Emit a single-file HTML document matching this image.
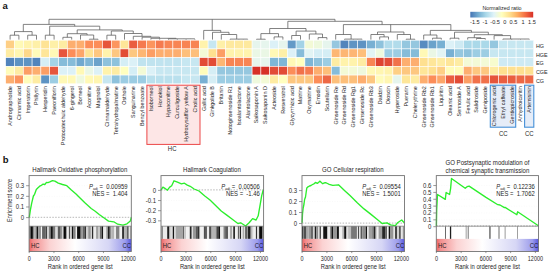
<!DOCTYPE html>
<html><head><meta charset="utf-8"><style>
html,body{margin:0;padding:0;background:#fff;width:550px;height:272px;overflow:hidden}
svg{display:block}
text{stroke:none}
</style></head><body>
<svg width="550" height="272" viewBox="0 0 550 272" font-family="'Liberation Sans', sans-serif">
<rect width="550" height="272" fill="#ffffff"/>
<g stroke="#ffffff" stroke-width="0.55">
<rect x="5.70" y="40.20" width="8.80" height="8.72" fill="#fecf85"/>
<rect x="14.50" y="40.20" width="8.80" height="8.72" fill="#fff9b6"/>
<rect x="23.30" y="40.20" width="8.80" height="8.72" fill="#fff3ac"/>
<rect x="32.10" y="40.20" width="8.80" height="8.72" fill="#fef0a8"/>
<rect x="40.90" y="40.20" width="8.80" height="8.72" fill="#fee395"/>
<rect x="49.70" y="40.20" width="8.80" height="8.72" fill="#fef0a8"/>
<rect x="58.50" y="40.20" width="8.80" height="8.72" fill="#feeca3"/>
<rect x="67.30" y="40.20" width="8.80" height="8.72" fill="#fdae6f"/>
<rect x="76.10" y="40.20" width="8.80" height="8.72" fill="#fdae6f"/>
<rect x="84.90" y="40.20" width="8.80" height="8.72" fill="#fc8d59"/>
<rect x="93.70" y="40.20" width="8.80" height="8.72" fill="#fc8d59"/>
<rect x="102.50" y="40.20" width="8.80" height="8.72" fill="#e6553b"/>
<rect x="111.30" y="40.20" width="8.80" height="8.72" fill="#fc955e"/>
<rect x="120.10" y="40.20" width="8.80" height="8.72" fill="#fee699"/>
<rect x="128.90" y="40.20" width="8.80" height="8.72" fill="#ea5e40"/>
<rect x="137.70" y="40.20" width="8.80" height="8.72" fill="#f57a4f"/>
<rect x="146.50" y="40.20" width="8.80" height="8.72" fill="#fc955e"/>
<rect x="155.30" y="40.20" width="8.80" height="8.72" fill="#f57a4f"/>
<rect x="164.10" y="40.20" width="8.80" height="8.72" fill="#f88454"/>
<rect x="172.90" y="40.20" width="8.80" height="8.72" fill="#f88454"/>
<rect x="181.70" y="40.20" width="8.80" height="8.72" fill="#f88454"/>
<rect x="190.50" y="40.20" width="8.80" height="8.72" fill="#f88454"/>
<rect x="199.30" y="40.20" width="8.80" height="8.72" fill="#fff3ac"/>
<rect x="208.10" y="40.20" width="8.80" height="8.72" fill="#c7e7f1"/>
<rect x="216.90" y="40.20" width="8.80" height="8.72" fill="#fef0a8"/>
<rect x="225.70" y="40.20" width="8.80" height="8.72" fill="#fee99e"/>
<rect x="234.50" y="40.20" width="8.80" height="8.72" fill="#fee99e"/>
<rect x="243.30" y="40.20" width="8.80" height="8.72" fill="#fee99e"/>
<rect x="252.10" y="40.20" width="8.80" height="8.72" fill="#e6f5ed"/>
<rect x="260.90" y="40.20" width="8.80" height="8.72" fill="#e6f5ed"/>
<rect x="269.70" y="40.20" width="8.80" height="8.72" fill="#dcf1f7"/>
<rect x="278.50" y="40.20" width="8.80" height="8.72" fill="#e6f5ed"/>
<rect x="287.30" y="40.20" width="8.80" height="8.72" fill="#649ac7"/>
<rect x="296.10" y="40.20" width="8.80" height="8.72" fill="#a4d3e6"/>
<rect x="304.90" y="40.20" width="8.80" height="8.72" fill="#f3fad6"/>
<rect x="313.70" y="40.20" width="8.80" height="8.72" fill="#eef9dd"/>
<rect x="322.50" y="40.20" width="8.80" height="8.72" fill="#e6f5ed"/>
<rect x="331.30" y="40.20" width="8.80" height="8.72" fill="#95c7df"/>
<rect x="340.10" y="40.20" width="8.80" height="8.72" fill="#5284bc"/>
<rect x="348.90" y="40.20" width="8.80" height="8.72" fill="#5e93c3"/>
<rect x="357.70" y="40.20" width="8.80" height="8.72" fill="#5e93c3"/>
<rect x="366.50" y="40.20" width="8.80" height="8.72" fill="#78b0d3"/>
<rect x="375.30" y="40.20" width="8.80" height="8.72" fill="#8ec2dc"/>
<rect x="384.10" y="40.20" width="8.80" height="8.72" fill="#b2dceb"/>
<rect x="392.90" y="40.20" width="8.80" height="8.72" fill="#b2dceb"/>
<rect x="401.70" y="40.20" width="8.80" height="8.72" fill="#95c7df"/>
<rect x="410.50" y="40.20" width="8.80" height="8.72" fill="#95c7df"/>
<rect x="419.30" y="40.20" width="8.80" height="8.72" fill="#588bc0"/>
<rect x="428.10" y="40.20" width="8.80" height="8.72" fill="#6ba2cb"/>
<rect x="436.90" y="40.20" width="8.80" height="8.72" fill="#78b0d3"/>
<rect x="445.70" y="40.20" width="8.80" height="8.72" fill="#dcf1f7"/>
<rect x="454.50" y="40.20" width="8.80" height="8.72" fill="#ceeaf3"/>
<rect x="463.30" y="40.20" width="8.80" height="8.72" fill="#abd9e9"/>
<rect x="472.10" y="40.20" width="8.80" height="8.72" fill="#abd9e9"/>
<rect x="480.90" y="40.20" width="8.80" height="8.72" fill="#abd9e9"/>
<rect x="489.70" y="40.20" width="8.80" height="8.72" fill="#95c7df"/>
<rect x="498.50" y="40.20" width="8.80" height="8.72" fill="#c7e7f1"/>
<rect x="507.30" y="40.20" width="8.80" height="8.72" fill="#c7e7f1"/>
<rect x="516.10" y="40.20" width="8.80" height="8.72" fill="#c7e7f1"/>
<rect x="524.90" y="40.20" width="8.80" height="8.72" fill="#c7e7f1"/>
<rect x="5.70" y="48.92" width="8.80" height="8.72" fill="#feeca3"/>
<rect x="14.50" y="48.92" width="8.80" height="8.72" fill="#fff6b1"/>
<rect x="23.30" y="48.92" width="8.80" height="8.72" fill="#fed88a"/>
<rect x="32.10" y="48.92" width="8.80" height="8.72" fill="#fffcba"/>
<rect x="40.90" y="48.92" width="8.80" height="8.72" fill="#fee699"/>
<rect x="49.70" y="48.92" width="8.80" height="8.72" fill="#fff9b6"/>
<rect x="58.50" y="48.92" width="8.80" height="8.72" fill="#e6553b"/>
<rect x="67.30" y="48.92" width="8.80" height="8.72" fill="#fc8d59"/>
<rect x="76.10" y="48.92" width="8.80" height="8.72" fill="#fda66a"/>
<rect x="84.90" y="48.92" width="8.80" height="8.72" fill="#fee395"/>
<rect x="93.70" y="48.92" width="8.80" height="8.72" fill="#fdc780"/>
<rect x="102.50" y="48.92" width="8.80" height="8.72" fill="#fff3ac"/>
<rect x="111.30" y="48.92" width="8.80" height="8.72" fill="#fdc780"/>
<rect x="120.10" y="48.92" width="8.80" height="8.72" fill="#e24c36"/>
<rect x="128.90" y="48.92" width="8.80" height="8.72" fill="#fdc780"/>
<rect x="137.70" y="48.92" width="8.80" height="8.72" fill="#fdb674"/>
<rect x="146.50" y="48.92" width="8.80" height="8.72" fill="#fc9e64"/>
<rect x="155.30" y="48.92" width="8.80" height="8.72" fill="#fdae6f"/>
<rect x="164.10" y="48.92" width="8.80" height="8.72" fill="#fdae6f"/>
<rect x="172.90" y="48.92" width="8.80" height="8.72" fill="#fdae6f"/>
<rect x="181.70" y="48.92" width="8.80" height="8.72" fill="#fdbf7a"/>
<rect x="190.50" y="48.92" width="8.80" height="8.72" fill="#fdbf7a"/>
<rect x="199.30" y="48.92" width="8.80" height="8.72" fill="#f3fad6"/>
<rect x="208.10" y="48.92" width="8.80" height="8.72" fill="#fee090"/>
<rect x="216.90" y="48.92" width="8.80" height="8.72" fill="#fc9e64"/>
<rect x="225.70" y="48.92" width="8.80" height="8.72" fill="#fff3ac"/>
<rect x="234.50" y="48.92" width="8.80" height="8.72" fill="#fff3ac"/>
<rect x="243.30" y="48.92" width="8.80" height="8.72" fill="#fff3ac"/>
<rect x="252.10" y="48.92" width="8.80" height="8.72" fill="#eaf7e5"/>
<rect x="260.90" y="48.92" width="8.80" height="8.72" fill="#eaf7e5"/>
<rect x="269.70" y="48.92" width="8.80" height="8.72" fill="#fff9b6"/>
<rect x="278.50" y="48.92" width="8.80" height="8.72" fill="#fef0a8"/>
<rect x="287.30" y="48.92" width="8.80" height="8.72" fill="#dcf1f7"/>
<rect x="296.10" y="48.92" width="8.80" height="8.72" fill="#86bcd9"/>
<rect x="304.90" y="48.92" width="8.80" height="8.72" fill="#e2f4f4"/>
<rect x="313.70" y="48.92" width="8.80" height="8.72" fill="#d5eef5"/>
<rect x="322.50" y="48.92" width="8.80" height="8.72" fill="#d5eef5"/>
<rect x="331.30" y="48.92" width="8.80" height="8.72" fill="#fdb674"/>
<rect x="340.10" y="48.92" width="8.80" height="8.72" fill="#fdb674"/>
<rect x="348.90" y="48.92" width="8.80" height="8.72" fill="#fdb674"/>
<rect x="357.70" y="48.92" width="8.80" height="8.72" fill="#fdbf7a"/>
<rect x="366.50" y="48.92" width="8.80" height="8.72" fill="#e2f4f4"/>
<rect x="375.30" y="48.92" width="8.80" height="8.72" fill="#eef9dd"/>
<rect x="384.10" y="48.92" width="8.80" height="8.72" fill="#9ccde3"/>
<rect x="392.90" y="48.92" width="8.80" height="8.72" fill="#9ccde3"/>
<rect x="401.70" y="48.92" width="8.80" height="8.72" fill="#86bcd9"/>
<rect x="410.50" y="48.92" width="8.80" height="8.72" fill="#86bcd9"/>
<rect x="419.30" y="48.92" width="8.80" height="8.72" fill="#fff9b6"/>
<rect x="428.10" y="48.92" width="8.80" height="8.72" fill="#eaf7e5"/>
<rect x="436.90" y="48.92" width="8.80" height="8.72" fill="#e2f4f4"/>
<rect x="445.70" y="48.92" width="8.80" height="8.72" fill="#78b0d3"/>
<rect x="454.50" y="48.92" width="8.80" height="8.72" fill="#95c7df"/>
<rect x="463.30" y="48.92" width="8.80" height="8.72" fill="#8ec2dc"/>
<rect x="472.10" y="48.92" width="8.80" height="8.72" fill="#9ccde3"/>
<rect x="480.90" y="48.92" width="8.80" height="8.72" fill="#9ccde3"/>
<rect x="489.70" y="48.92" width="8.80" height="8.72" fill="#c7e7f1"/>
<rect x="498.50" y="48.92" width="8.80" height="8.72" fill="#c7e7f1"/>
<rect x="507.30" y="48.92" width="8.80" height="8.72" fill="#c7e7f1"/>
<rect x="516.10" y="48.92" width="8.80" height="8.72" fill="#c7e7f1"/>
<rect x="524.90" y="48.92" width="8.80" height="8.72" fill="#c7e7f1"/>
<rect x="5.70" y="57.64" width="8.80" height="8.72" fill="#5284bc"/>
<rect x="14.50" y="57.64" width="8.80" height="8.72" fill="#5e93c3"/>
<rect x="23.30" y="57.64" width="8.80" height="8.72" fill="#5e93c3"/>
<rect x="32.10" y="57.64" width="8.80" height="8.72" fill="#5284bc"/>
<rect x="40.90" y="57.64" width="8.80" height="8.72" fill="#d5eef5"/>
<rect x="49.70" y="57.64" width="8.80" height="8.72" fill="#a4d3e6"/>
<rect x="58.50" y="57.64" width="8.80" height="8.72" fill="#86bcd9"/>
<rect x="67.30" y="57.64" width="8.80" height="8.72" fill="#86bcd9"/>
<rect x="76.10" y="57.64" width="8.80" height="8.72" fill="#71a9cf"/>
<rect x="84.90" y="57.64" width="8.80" height="8.72" fill="#7fb6d6"/>
<rect x="93.70" y="57.64" width="8.80" height="8.72" fill="#6ba2cb"/>
<rect x="102.50" y="57.64" width="8.80" height="8.72" fill="#8ec2dc"/>
<rect x="111.30" y="57.64" width="8.80" height="8.72" fill="#8ec2dc"/>
<rect x="120.10" y="57.64" width="8.80" height="8.72" fill="#d5eef5"/>
<rect x="128.90" y="57.64" width="8.80" height="8.72" fill="#dcf1f7"/>
<rect x="137.70" y="57.64" width="8.80" height="8.72" fill="#c0e3ef"/>
<rect x="146.50" y="57.64" width="8.80" height="8.72" fill="#c0e3ef"/>
<rect x="155.30" y="57.64" width="8.80" height="8.72" fill="#c0e3ef"/>
<rect x="164.10" y="57.64" width="8.80" height="8.72" fill="#c0e3ef"/>
<rect x="172.90" y="57.64" width="8.80" height="8.72" fill="#c0e3ef"/>
<rect x="181.70" y="57.64" width="8.80" height="8.72" fill="#c7e7f1"/>
<rect x="190.50" y="57.64" width="8.80" height="8.72" fill="#c7e7f1"/>
<rect x="199.30" y="57.64" width="8.80" height="8.72" fill="#e24c36"/>
<rect x="208.10" y="57.64" width="8.80" height="8.72" fill="#e24c36"/>
<rect x="216.90" y="57.64" width="8.80" height="8.72" fill="#fdb674"/>
<rect x="225.70" y="57.64" width="8.80" height="8.72" fill="#f88454"/>
<rect x="234.50" y="57.64" width="8.80" height="8.72" fill="#f88454"/>
<rect x="243.30" y="57.64" width="8.80" height="8.72" fill="#f88454"/>
<rect x="252.10" y="57.64" width="8.80" height="8.72" fill="#e6f5ed"/>
<rect x="260.90" y="57.64" width="8.80" height="8.72" fill="#e6f5ed"/>
<rect x="269.70" y="57.64" width="8.80" height="8.72" fill="#7fb6d6"/>
<rect x="278.50" y="57.64" width="8.80" height="8.72" fill="#7fb6d6"/>
<rect x="287.30" y="57.64" width="8.80" height="8.72" fill="#fff9b6"/>
<rect x="296.10" y="57.64" width="8.80" height="8.72" fill="#ffffbf"/>
<rect x="304.90" y="57.64" width="8.80" height="8.72" fill="#7fb6d6"/>
<rect x="313.70" y="57.64" width="8.80" height="8.72" fill="#8ec2dc"/>
<rect x="322.50" y="57.64" width="8.80" height="8.72" fill="#9ccde3"/>
<rect x="331.30" y="57.64" width="8.80" height="8.72" fill="#feeca3"/>
<rect x="340.10" y="57.64" width="8.80" height="8.72" fill="#fff3ac"/>
<rect x="348.90" y="57.64" width="8.80" height="8.72" fill="#fff3ac"/>
<rect x="357.70" y="57.64" width="8.80" height="8.72" fill="#feeca3"/>
<rect x="366.50" y="57.64" width="8.80" height="8.72" fill="#f88454"/>
<rect x="375.30" y="57.64" width="8.80" height="8.72" fill="#de4331"/>
<rect x="384.10" y="57.64" width="8.80" height="8.72" fill="#e24c36"/>
<rect x="392.90" y="57.64" width="8.80" height="8.72" fill="#f1714a"/>
<rect x="401.70" y="57.64" width="8.80" height="8.72" fill="#fdae6f"/>
<rect x="410.50" y="57.64" width="8.80" height="8.72" fill="#fdae6f"/>
<rect x="419.30" y="57.64" width="8.80" height="8.72" fill="#fee090"/>
<rect x="428.10" y="57.64" width="8.80" height="8.72" fill="#fee699"/>
<rect x="436.90" y="57.64" width="8.80" height="8.72" fill="#feeca3"/>
<rect x="445.70" y="57.64" width="8.80" height="8.72" fill="#fee699"/>
<rect x="454.50" y="57.64" width="8.80" height="8.72" fill="#feeca3"/>
<rect x="463.30" y="57.64" width="8.80" height="8.72" fill="#f3fad6"/>
<rect x="472.10" y="57.64" width="8.80" height="8.72" fill="#f3fad6"/>
<rect x="480.90" y="57.64" width="8.80" height="8.72" fill="#f3fad6"/>
<rect x="489.70" y="57.64" width="8.80" height="8.72" fill="#f7fcce"/>
<rect x="498.50" y="57.64" width="8.80" height="8.72" fill="#ceeaf3"/>
<rect x="507.30" y="57.64" width="8.80" height="8.72" fill="#ceeaf3"/>
<rect x="516.10" y="57.64" width="8.80" height="8.72" fill="#ceeaf3"/>
<rect x="524.90" y="57.64" width="8.80" height="8.72" fill="#ceeaf3"/>
<rect x="5.70" y="66.36" width="8.80" height="8.72" fill="#fffcba"/>
<rect x="14.50" y="66.36" width="8.80" height="8.72" fill="#feeca3"/>
<rect x="23.30" y="66.36" width="8.80" height="8.72" fill="#fc9e64"/>
<rect x="32.10" y="66.36" width="8.80" height="8.72" fill="#fdae6f"/>
<rect x="40.90" y="66.36" width="8.80" height="8.72" fill="#fc9e64"/>
<rect x="49.70" y="66.36" width="8.80" height="8.72" fill="#e6553b"/>
<rect x="58.50" y="66.36" width="8.80" height="8.72" fill="#dcf1f7"/>
<rect x="67.30" y="66.36" width="8.80" height="8.72" fill="#dcf1f7"/>
<rect x="76.10" y="66.36" width="8.80" height="8.72" fill="#fff9b6"/>
<rect x="84.90" y="66.36" width="8.80" height="8.72" fill="#eaf7e5"/>
<rect x="93.70" y="66.36" width="8.80" height="8.72" fill="#dcf1f7"/>
<rect x="102.50" y="66.36" width="8.80" height="8.72" fill="#fff3ac"/>
<rect x="111.30" y="66.36" width="8.80" height="8.72" fill="#feeca3"/>
<rect x="120.10" y="66.36" width="8.80" height="8.72" fill="#ffffbf"/>
<rect x="128.90" y="66.36" width="8.80" height="8.72" fill="#d5eef5"/>
<rect x="137.70" y="66.36" width="8.80" height="8.72" fill="#f3fad6"/>
<rect x="146.50" y="66.36" width="8.80" height="8.72" fill="#dcf1f7"/>
<rect x="155.30" y="66.36" width="8.80" height="8.72" fill="#c7e7f1"/>
<rect x="164.10" y="66.36" width="8.80" height="8.72" fill="#c7e7f1"/>
<rect x="172.90" y="66.36" width="8.80" height="8.72" fill="#c7e7f1"/>
<rect x="181.70" y="66.36" width="8.80" height="8.72" fill="#c7e7f1"/>
<rect x="190.50" y="66.36" width="8.80" height="8.72" fill="#c7e7f1"/>
<rect x="199.30" y="66.36" width="8.80" height="8.72" fill="#fffcba"/>
<rect x="208.10" y="66.36" width="8.80" height="8.72" fill="#d5eef5"/>
<rect x="216.90" y="66.36" width="8.80" height="8.72" fill="#95c7df"/>
<rect x="225.70" y="66.36" width="8.80" height="8.72" fill="#95c7df"/>
<rect x="234.50" y="66.36" width="8.80" height="8.72" fill="#95c7df"/>
<rect x="243.30" y="66.36" width="8.80" height="8.72" fill="#95c7df"/>
<rect x="252.10" y="66.36" width="8.80" height="8.72" fill="#d73027"/>
<rect x="260.90" y="66.36" width="8.80" height="8.72" fill="#d73027"/>
<rect x="269.70" y="66.36" width="8.80" height="8.72" fill="#e24c36"/>
<rect x="278.50" y="66.36" width="8.80" height="8.72" fill="#e24c36"/>
<rect x="287.30" y="66.36" width="8.80" height="8.72" fill="#fc8d59"/>
<rect x="296.10" y="66.36" width="8.80" height="8.72" fill="#f1714a"/>
<rect x="304.90" y="66.36" width="8.80" height="8.72" fill="#f57a4f"/>
<rect x="313.70" y="66.36" width="8.80" height="8.72" fill="#fdae6f"/>
<rect x="322.50" y="66.36" width="8.80" height="8.72" fill="#fdbf7a"/>
<rect x="331.30" y="66.36" width="8.80" height="8.72" fill="#86bcd9"/>
<rect x="340.10" y="66.36" width="8.80" height="8.72" fill="#f3fad6"/>
<rect x="348.90" y="66.36" width="8.80" height="8.72" fill="#f3fad6"/>
<rect x="357.70" y="66.36" width="8.80" height="8.72" fill="#eef9dd"/>
<rect x="366.50" y="66.36" width="8.80" height="8.72" fill="#fff9b6"/>
<rect x="375.30" y="66.36" width="8.80" height="8.72" fill="#fff6b1"/>
<rect x="384.10" y="66.36" width="8.80" height="8.72" fill="#fff3ac"/>
<rect x="392.90" y="66.36" width="8.80" height="8.72" fill="#fecf85"/>
<rect x="401.70" y="66.36" width="8.80" height="8.72" fill="#fdc780"/>
<rect x="410.50" y="66.36" width="8.80" height="8.72" fill="#fdc780"/>
<rect x="419.30" y="66.36" width="8.80" height="8.72" fill="#fee699"/>
<rect x="428.10" y="66.36" width="8.80" height="8.72" fill="#fee090"/>
<rect x="436.90" y="66.36" width="8.80" height="8.72" fill="#fecf85"/>
<rect x="445.70" y="66.36" width="8.80" height="8.72" fill="#fffcba"/>
<rect x="454.50" y="66.36" width="8.80" height="8.72" fill="#fffcba"/>
<rect x="463.30" y="66.36" width="8.80" height="8.72" fill="#fdae6f"/>
<rect x="472.10" y="66.36" width="8.80" height="8.72" fill="#fdc780"/>
<rect x="480.90" y="66.36" width="8.80" height="8.72" fill="#fdc780"/>
<rect x="489.70" y="66.36" width="8.80" height="8.72" fill="#feeca3"/>
<rect x="498.50" y="66.36" width="8.80" height="8.72" fill="#fee090"/>
<rect x="507.30" y="66.36" width="8.80" height="8.72" fill="#fee090"/>
<rect x="516.10" y="66.36" width="8.80" height="8.72" fill="#fee090"/>
<rect x="524.90" y="66.36" width="8.80" height="8.72" fill="#fee090"/>
<rect x="5.70" y="75.08" width="8.80" height="8.72" fill="#fdae6f"/>
<rect x="14.50" y="75.08" width="8.80" height="8.72" fill="#fc955e"/>
<rect x="23.30" y="75.08" width="8.80" height="8.72" fill="#fffcba"/>
<rect x="32.10" y="75.08" width="8.80" height="8.72" fill="#feeca3"/>
<rect x="40.90" y="75.08" width="8.80" height="8.72" fill="#5e93c3"/>
<rect x="49.70" y="75.08" width="8.80" height="8.72" fill="#9ccde3"/>
<rect x="58.50" y="75.08" width="8.80" height="8.72" fill="#fff9b6"/>
<rect x="67.30" y="75.08" width="8.80" height="8.72" fill="#fff9b6"/>
<rect x="76.10" y="75.08" width="8.80" height="8.72" fill="#eef9dd"/>
<rect x="84.90" y="75.08" width="8.80" height="8.72" fill="#fff9b6"/>
<rect x="93.70" y="75.08" width="8.80" height="8.72" fill="#fff6b1"/>
<rect x="102.50" y="75.08" width="8.80" height="8.72" fill="#c7e7f1"/>
<rect x="111.30" y="75.08" width="8.80" height="8.72" fill="#8ec2dc"/>
<rect x="120.10" y="75.08" width="8.80" height="8.72" fill="#9ccde3"/>
<rect x="128.90" y="75.08" width="8.80" height="8.72" fill="#9ccde3"/>
<rect x="137.70" y="75.08" width="8.80" height="8.72" fill="#9ccde3"/>
<rect x="146.50" y="75.08" width="8.80" height="8.72" fill="#b9e0ed"/>
<rect x="155.30" y="75.08" width="8.80" height="8.72" fill="#b9e0ed"/>
<rect x="164.10" y="75.08" width="8.80" height="8.72" fill="#b9e0ed"/>
<rect x="172.90" y="75.08" width="8.80" height="8.72" fill="#b9e0ed"/>
<rect x="181.70" y="75.08" width="8.80" height="8.72" fill="#c7e7f1"/>
<rect x="190.50" y="75.08" width="8.80" height="8.72" fill="#c7e7f1"/>
<rect x="199.30" y="75.08" width="8.80" height="8.72" fill="#78b0d3"/>
<rect x="208.10" y="75.08" width="8.80" height="8.72" fill="#d5eef5"/>
<rect x="216.90" y="75.08" width="8.80" height="8.72" fill="#9ccde3"/>
<rect x="225.70" y="75.08" width="8.80" height="8.72" fill="#9ccde3"/>
<rect x="234.50" y="75.08" width="8.80" height="8.72" fill="#9ccde3"/>
<rect x="243.30" y="75.08" width="8.80" height="8.72" fill="#9ccde3"/>
<rect x="252.10" y="75.08" width="8.80" height="8.72" fill="#eef9dd"/>
<rect x="260.90" y="75.08" width="8.80" height="8.72" fill="#f3fad6"/>
<rect x="269.70" y="75.08" width="8.80" height="8.72" fill="#feeca3"/>
<rect x="278.50" y="75.08" width="8.80" height="8.72" fill="#ffffbf"/>
<rect x="287.30" y="75.08" width="8.80" height="8.72" fill="#fdc780"/>
<rect x="296.10" y="75.08" width="8.80" height="8.72" fill="#fdc780"/>
<rect x="304.90" y="75.08" width="8.80" height="8.72" fill="#fdc780"/>
<rect x="313.70" y="75.08" width="8.80" height="8.72" fill="#fc8d59"/>
<rect x="322.50" y="75.08" width="8.80" height="8.72" fill="#ed6845"/>
<rect x="331.30" y="75.08" width="8.80" height="8.72" fill="#fdbf7a"/>
<rect x="340.10" y="75.08" width="8.80" height="8.72" fill="#fdbf7a"/>
<rect x="348.90" y="75.08" width="8.80" height="8.72" fill="#fdbf7a"/>
<rect x="357.70" y="75.08" width="8.80" height="8.72" fill="#fdae6f"/>
<rect x="366.50" y="75.08" width="8.80" height="8.72" fill="#fdc780"/>
<rect x="375.30" y="75.08" width="8.80" height="8.72" fill="#fffcba"/>
<rect x="384.10" y="75.08" width="8.80" height="8.72" fill="#fff6b1"/>
<rect x="392.90" y="75.08" width="8.80" height="8.72" fill="#e6f5ed"/>
<rect x="401.70" y="75.08" width="8.80" height="8.72" fill="#fee699"/>
<rect x="410.50" y="75.08" width="8.80" height="8.72" fill="#feeca3"/>
<rect x="419.30" y="75.08" width="8.80" height="8.72" fill="#fdae6f"/>
<rect x="428.10" y="75.08" width="8.80" height="8.72" fill="#fc8d59"/>
<rect x="436.90" y="75.08" width="8.80" height="8.72" fill="#fda66a"/>
<rect x="445.70" y="75.08" width="8.80" height="8.72" fill="#ea5e40"/>
<rect x="454.50" y="75.08" width="8.80" height="8.72" fill="#e24c36"/>
<rect x="463.30" y="75.08" width="8.80" height="8.72" fill="#fc9e64"/>
<rect x="472.10" y="75.08" width="8.80" height="8.72" fill="#f1714a"/>
<rect x="480.90" y="75.08" width="8.80" height="8.72" fill="#f1714a"/>
<rect x="489.70" y="75.08" width="8.80" height="8.72" fill="#e6553b"/>
<rect x="498.50" y="75.08" width="8.80" height="8.72" fill="#ea5e40"/>
<rect x="507.30" y="75.08" width="8.80" height="8.72" fill="#ea5e40"/>
<rect x="516.10" y="75.08" width="8.80" height="8.72" fill="#ed6845"/>
<rect x="524.90" y="75.08" width="8.80" height="8.72" fill="#ed6845"/>
</g>
<path d="M10.10 35.20L10.10 39.60M18.90 35.20L18.90 39.60M27.70 35.20L27.70 39.60M36.50 35.20L36.50 39.60M14.50 31.60L14.50 35.20M32.10 31.60L32.10 35.20M45.30 35.20L45.30 39.60M54.10 35.20L54.10 39.60M62.90 37.30L62.90 39.60M71.70 37.30L71.70 39.60M89.30 39.20L89.30 39.60M98.10 39.20L98.10 39.60M80.50 35.00L80.50 39.60M93.70 35.00L93.70 39.20M67.30 33.70L67.30 37.30M87.10 33.70L87.10 35.00M106.90 35.20L106.90 39.60M115.70 35.20L115.70 39.60M186.10 39.00L186.10 39.60M194.90 39.00L194.90 39.60M177.30 38.90L177.30 39.60M190.50 38.90L190.50 39.00M168.50 38.80L168.50 39.60M183.90 38.80L183.90 38.90M159.70 38.60L159.70 39.60M176.20 38.60L176.20 38.80M150.90 38.30L150.90 39.60M167.95 38.30L167.95 38.60M142.10 37.20L142.10 39.60M159.43 37.20L159.43 38.30M133.30 36.30L133.30 39.60M150.76 36.30L150.76 37.20M124.50 33.50L124.50 39.60M142.03 33.50L142.03 36.30M111.30 31.00L111.30 35.20M133.27 31.00L133.27 33.50M77.20 29.90L77.20 33.70M122.28 29.90L122.28 31.00M49.70 26.20L49.70 35.20M99.74 26.20L99.74 29.90M23.30 24.40L23.30 31.60M74.72 24.40L74.72 26.20M238.90 39.30L238.90 39.60M247.70 39.30L247.70 39.60M230.10 39.10L230.10 39.60M243.30 39.10L243.30 39.30M221.30 34.50L221.30 39.60M236.70 34.50L236.70 39.10M212.50 32.30L212.50 39.60M229.00 32.30L229.00 34.50M203.70 30.40L203.70 39.60M220.75 30.40L220.75 32.30M49.01 19.30L49.01 24.40M212.23 19.30L212.23 30.40M256.50 39.20L256.50 39.60M265.30 39.20L265.30 39.60M274.10 36.90L274.10 39.60M282.90 36.90L282.90 39.60M260.90 33.60L260.90 39.20M278.50 33.60L278.50 36.90M291.70 35.50L291.70 39.60M300.50 35.50L300.50 39.60M318.10 37.60L318.10 39.60M326.90 37.60L326.90 39.60M309.30 34.00L309.30 39.60M322.50 34.00L322.50 37.60M296.10 31.10L296.10 35.50M315.90 31.10L315.90 34.00M269.70 28.50L269.70 33.60M306.00 28.50L306.00 31.10M353.30 39.30L353.30 39.60M362.10 39.30L362.10 39.60M344.50 39.10L344.50 39.60M357.70 39.10L357.70 39.30M335.70 34.50L335.70 39.60M351.10 34.50L351.10 39.10M379.70 36.90L379.70 39.60M388.50 36.90L388.50 39.60M370.90 34.50L370.90 39.60M384.10 34.50L384.10 36.90M406.10 39.20L406.10 39.60M414.90 39.20L414.90 39.60M397.30 34.50L397.30 39.60M410.50 34.50L410.50 39.20M377.50 32.00L377.50 34.50M403.90 32.00L403.90 34.50M432.50 38.20L432.50 39.60M441.30 38.20L441.30 39.60M423.70 35.00L423.70 39.60M436.90 35.00L436.90 38.20M450.10 38.20L450.10 39.60M458.90 38.20L458.90 39.60M476.50 38.50L476.50 39.60M485.30 38.50L485.30 39.60M467.70 37.70L467.70 39.60M480.90 37.70L480.90 38.50M520.50 39.20L520.50 39.60M529.30 39.20L529.30 39.60M511.70 39.10L511.70 39.60M524.90 39.10L524.90 39.20M502.90 39.00L502.90 39.60M518.30 39.00L518.30 39.10M494.10 35.60L494.10 39.60M510.60 35.60L510.60 39.00M474.30 34.70L474.30 37.70M502.35 34.70L502.35 35.60M454.50 32.20L454.50 38.20M488.33 32.20L488.33 34.70M430.30 30.40L430.30 35.00M471.41 30.40L471.41 32.20M390.70 24.50L390.70 32.00M450.86 24.50L450.86 30.40M343.40 24.60L343.40 34.50M420.78 24.60L420.78 24.50M287.85 21.30L287.85 28.50M382.09 21.30L382.09 24.60M334.97 19.30L334.97 21.30M10.10 35.20L18.90 35.20M14.50 31.60L32.10 31.60M23.30 24.40L74.72 24.40M27.70 35.20L36.50 35.20M45.30 35.20L54.10 35.20M49.01 19.30L334.97 19.30M49.70 26.20L99.74 26.20M62.90 37.30L71.70 37.30M67.30 33.70L87.10 33.70M77.20 29.90L122.28 29.90M80.50 35.00L93.70 35.00M89.30 39.20L98.10 39.20M106.90 35.20L115.70 35.20M111.30 31.00L133.27 31.00M124.50 33.50L142.03 33.50M133.30 36.30L150.76 36.30M142.10 37.20L159.43 37.20M150.90 38.30L176.20 38.30M168.50 38.80L194.90 38.80M203.70 30.40L220.75 30.40M212.50 32.30L229.00 32.30M221.30 34.50L236.70 34.50M230.10 39.10L247.70 39.10M256.50 39.20L265.30 39.20M260.90 33.60L278.50 33.60M269.70 28.50L306.00 28.50M274.10 36.90L282.90 36.90M287.85 21.30L382.09 21.30M291.70 35.50L300.50 35.50M296.10 31.10L315.90 31.10M309.30 34.00L322.50 34.00M318.10 37.60L326.90 37.60M335.70 34.50L351.10 34.50M343.40 24.60L450.86 24.60M344.50 39.10L362.10 39.10M370.90 34.50L384.10 34.50M377.50 32.00L403.90 32.00M379.70 36.90L388.50 36.90M397.30 34.50L410.50 34.50M406.10 39.20L414.90 39.20M423.70 35.00L436.90 35.00M430.30 30.40L471.41 30.40M432.50 38.20L441.30 38.20M450.10 38.20L458.90 38.20M454.50 32.20L488.33 32.20M467.70 37.70L480.90 37.70M474.30 34.70L502.35 34.70M476.50 38.50L485.30 38.50M494.10 35.60L510.60 35.60M502.90 39.00L529.30 39.00" stroke="#5a5a5a" stroke-width="0.75" fill="none"/>
<rect x="146.9" y="85.2" width="53.1" height="59.2" fill="#fde6e6" stroke="#ec4646" stroke-width="1.0"/>
<rect x="490.3" y="85.2" width="25.4" height="42" fill="#e6edf8" stroke="#4590d8" stroke-width="1.1"/>
<rect x="524.6" y="85.2" width="9.2" height="42" fill="#e6edf8" stroke="#4590d8" stroke-width="1.1"/>
<g font-family='"Liberation Sans", sans-serif' font-size="5.4" fill="#262626" text-anchor="end">
<text transform="translate(12.00 86.2) rotate(-90) scale(1 1.120)">Andrographolide</text>
<text transform="translate(20.80 86.2) rotate(-90) scale(1 1.120)">Cinnamic acid</text>
<text transform="translate(29.60 86.2) rotate(-90) scale(1 1.120)">Imperatorin</text>
<text transform="translate(38.40 86.2) rotate(-90) scale(1 1.120)">Phillyrin</text>
<text transform="translate(47.20 86.2) rotate(-90) scale(1 1.120)">Hesperidin</text>
<text transform="translate(56.00 86.2) rotate(-90) scale(1 1.120)">Paeoniflorin</text>
<text transform="translate(64.80 86.2) rotate(-90) scale(1 1.120)">Protocatechuic aldehyde</text>
<text transform="translate(73.60 86.2) rotate(-90) scale(1 1.120)">6-gingerol</text>
<text transform="translate(82.40 86.2) rotate(-90) scale(1 1.120)">Borneol</text>
<text transform="translate(91.20 86.2) rotate(-90) scale(1 1.120)">Aconitine</text>
<text transform="translate(100.00 86.2) rotate(-90) scale(1 1.120)">Magnolol</text>
<text transform="translate(108.80 86.2) rotate(-90) scale(1 1.120)">Cinnamaldehyde</text>
<text transform="translate(117.60 86.2) rotate(-90) scale(1 1.120)">Tetrahydropalmatine</text>
<text transform="translate(126.40 86.2) rotate(-90) scale(1 1.120)">Osthole</text>
<text transform="translate(135.20 86.2) rotate(-90) scale(1 1.120)">Sanguinarine</text>
<text transform="translate(144.00 86.2) rotate(-90) scale(1 1.120)">Benzyl benzoate</text>
<text transform="translate(152.80 86.2) rotate(-90) scale(1 1.120)">Isoborneol</text>
<text transform="translate(161.60 86.2) rotate(-90) scale(1 1.120)">Honokiol</text>
<text transform="translate(170.40 86.2) rotate(-90) scale(1 1.120)">Hypaconitine</text>
<text transform="translate(179.20 86.2) rotate(-90) scale(1 1.120)">Curculigoside</text>
<text transform="translate(188.00 86.2) rotate(-90) scale(1 1.120)">Hydroxysafflor yellow A</text>
<text transform="translate(196.80 86.2) rotate(-90) scale(1 1.120)">Cholic acid</text>
<text transform="translate(205.60 86.2) rotate(-90) scale(1 1.120)">Gallic acid</text>
<text transform="translate(214.40 86.2) rotate(-90) scale(1 1.120)">Ginkgolide B</text>
<text transform="translate(223.20 86.2) rotate(-90) scale(1 1.120)">Britanin</text>
<text transform="translate(232.00 86.2) rotate(-90) scale(1 1.120)">Notoginsenoside R1</text>
<text transform="translate(240.80 86.2) rotate(-90) scale(1 1.120)">Isoalantolactone</text>
<text transform="translate(249.60 86.2) rotate(-90) scale(1 1.120)">Alantolactone</text>
<text transform="translate(258.40 86.2) rotate(-90) scale(1 1.120)">Saikosaponin A</text>
<text transform="translate(267.20 86.2) rotate(-90) scale(1 1.120)">Saikosaponin D</text>
<text transform="translate(276.00 86.2) rotate(-90) scale(1 1.120)">Acteoside</text>
<text transform="translate(284.80 86.2) rotate(-90) scale(1 1.120)">Resveratrol</text>
<text transform="translate(293.60 86.2) rotate(-90) scale(1 1.120)">Glycyrrhizic acid</text>
<text transform="translate(302.40 86.2) rotate(-90) scale(1 1.120)">Matrine</text>
<text transform="translate(311.20 86.2) rotate(-90) scale(1 1.120)">Oxymatrine</text>
<text transform="translate(320.00 86.2) rotate(-90) scale(1 1.120)">Emodin</text>
<text transform="translate(328.80 86.2) rotate(-90) scale(1 1.120)">Scutellarin</text>
<text transform="translate(337.60 86.2) rotate(-90) scale(1 1.120)">Ginsenoside Re</text>
<text transform="translate(346.40 86.2) rotate(-90) scale(1 1.120)">Ginsenoside Rd</text>
<text transform="translate(355.20 86.2) rotate(-90) scale(1 1.120)">Ginsenoside Rg1</text>
<text transform="translate(364.00 86.2) rotate(-90) scale(1 1.120)">Ginsenoside Rc</text>
<text transform="translate(372.80 86.2) rotate(-90) scale(1 1.120)">Ginsenoside Rb3</text>
<text transform="translate(381.60 86.2) rotate(-90) scale(1 1.120)">Daidzin</text>
<text transform="translate(390.40 86.2) rotate(-90) scale(1 1.120)">Dioscin</text>
<text transform="translate(399.20 86.2) rotate(-90) scale(1 1.120)">Hyperoside</text>
<text transform="translate(408.00 86.2) rotate(-90) scale(1 1.120)">Puerarin</text>
<text transform="translate(416.80 86.2) rotate(-90) scale(1 1.120)">Chelerythrine</text>
<text transform="translate(425.60 86.2) rotate(-90) scale(1 1.120)">Ginsenoside Rb2</text>
<text transform="translate(434.40 86.2) rotate(-90) scale(1 1.120)">Ginsenoside Rb1</text>
<text transform="translate(443.20 86.2) rotate(-90) scale(1 1.120)">Liquiritin</text>
<text transform="translate(452.00 86.2) rotate(-90) scale(1 1.120)">Oleanic acid</text>
<text transform="translate(460.80 86.2) rotate(-90) scale(1 1.120)">Sennoside A</text>
<text transform="translate(469.60 86.2) rotate(-90) scale(1 1.120)">Ferulic acid</text>
<text transform="translate(478.40 86.2) rotate(-90) scale(1 1.120)">Salidroside</text>
<text transform="translate(487.20 86.2) rotate(-90) scale(1 1.120)">Geniposide</text>
<text transform="translate(496.00 86.2) rotate(-90) scale(1 1.120)">Chlorogenic acid</text>
<text transform="translate(504.80 86.2) rotate(-90) scale(1 1.120)">Ethyl caffeate</text>
<text transform="translate(513.60 86.2) rotate(-90) scale(1 1.120)">Gentiopicroside</text>
<text transform="translate(522.40 86.2) rotate(-90) scale(1 1.120)">Anhydroicaritin</text>
<text transform="translate(531.20 86.2) rotate(-90) scale(1 1.120)">Artemisinin</text>
</g>
<g font-family='"Liberation Sans", sans-serif' font-size="6.0" fill="#262626" text-anchor="middle">
<text transform="translate(172.2 151.4) scale(1 1.120)">HC</text>
<text transform="translate(503.3 136.1) scale(1 1.120)">CC</text>
<text transform="translate(529.3 136.1) scale(1 1.120)">CC</text>
</g>
<g font-family='"Liberation Sans", sans-serif' font-size="5.4" fill="#262626">
<text transform="translate(535.9 47.86) scale(1 1.120)">HG</text>
<text transform="translate(535.9 56.58) scale(1 1.120)">HGE</text>
<text transform="translate(535.9 65.30) scale(1 1.120)">EG</text>
<text transform="translate(535.9 74.02) scale(1 1.120)">CGE</text>
<text transform="translate(535.9 82.74) scale(1 1.120)">CG</text>
</g>
<defs><linearGradient id="lg" x1="0" x2="1" y1="0" y2="0">
<stop offset="0.000" stop-color="#4575b4"/>
<stop offset="0.125" stop-color="#74add1"/>
<stop offset="0.250" stop-color="#abd9e9"/>
<stop offset="0.375" stop-color="#e0f3f8"/>
<stop offset="0.500" stop-color="#ffffbf"/>
<stop offset="0.625" stop-color="#fee090"/>
<stop offset="0.750" stop-color="#fdae61"/>
<stop offset="0.875" stop-color="#f46d43"/>
<stop offset="1.000" stop-color="#d73027"/>
</linearGradient>
<linearGradient id="hccc" x1="0" x2="1" y1="0" y2="0"><stop offset="0" stop-color="#ee6464"/><stop offset="0.04" stop-color="#f38e8e"/><stop offset="0.2" stop-color="#fbd2d2"/><stop offset="0.45" stop-color="#ffffff"/><stop offset="0.78" stop-color="#d6d6f5"/><stop offset="0.94" stop-color="#9c9cec"/><stop offset="1" stop-color="#5656dc"/></linearGradient>
</defs>
<text transform="translate(502.0 9.6) scale(1 1.120)" font-family='"Liberation Sans", sans-serif' font-size="5.4" fill="#262626" text-anchor="middle">Normalized ratio</text>
<rect x="470.3" y="11.8" width="62.9" height="5.7" fill="url(#lg)"/>
<g font-family='"Liberation Sans", sans-serif' font-size="5.6" fill="#262626" text-anchor="middle">
<text transform="translate(474.90 23.5) scale(1 1.120)">-1.5</text>
<text transform="translate(485.00 23.5) scale(1 1.120)">-1</text>
<text transform="translate(495.10 23.5) scale(1 1.120)">-0.5</text>
<text transform="translate(504.80 23.5) scale(1 1.120)">0</text>
<text transform="translate(513.50 23.5) scale(1 1.120)">0.5</text>
<text transform="translate(523.00 23.5) scale(1 1.120)">1</text>
<text transform="translate(532.00 23.5) scale(1 1.120)">1.5</text>
</g>
<text x="2.6" y="9.3" font-family='"Liberation Sans", sans-serif' font-size="9.5" font-weight="bold" fill="#111">a</text>
<text x="2.8" y="163.2" font-family='"Liberation Sans", sans-serif' font-size="9.5" font-weight="bold" fill="#111">b</text>
<rect x="29.10" y="226.20" width="102.20" height="12.70" fill="#ffffff"/>
<rect x="29.31" y="226.20" width="1.64" height="12.70" fill="#5a5a5a"/><rect x="30.95" y="226.20" width="1.96" height="12.70" fill="#0a0a0a"/><rect x="32.91" y="226.20" width="1.31" height="12.70" fill="#8c8c8c"/><rect x="34.22" y="226.20" width="2.29" height="12.70" fill="#aaaaaa"/><rect x="36.51" y="226.20" width="1.64" height="12.70" fill="#141414"/><rect x="38.14" y="226.20" width="1.96" height="12.70" fill="#969696"/><rect x="40.11" y="226.20" width="0.65" height="12.70" fill="#3c3c3c"/><rect x="40.76" y="226.20" width="1.31" height="12.70" fill="#f5f5f5"/><rect x="42.07" y="226.20" width="3.60" height="12.70" fill="#646464"/><rect x="45.67" y="226.20" width="1.31" height="12.70" fill="#3c3c3c"/><rect x="46.98" y="226.20" width="1.96" height="12.70" fill="#d2d2d2"/><rect x="48.94" y="226.20" width="1.64" height="12.70" fill="#828282"/><rect x="50.58" y="226.20" width="2.29" height="12.70" fill="#141414"/><rect x="52.87" y="226.20" width="2.62" height="12.70" fill="#787878"/><rect x="55.49" y="226.20" width="2.29" height="12.70" fill="#dcdcdc"/><rect x="57.78" y="226.20" width="2.95" height="12.70" fill="#5a5a5a"/><rect x="60.72" y="226.20" width="1.31" height="12.70" fill="#969696"/><rect x="62.03" y="226.20" width="0.98" height="12.70" fill="#d2d2d2"/><rect x="63.01" y="226.20" width="0.98" height="12.70" fill="#787878"/><rect x="64.00" y="226.20" width="1.96" height="12.70" fill="#0a0a0a"/><rect x="65.96" y="226.20" width="0.98" height="12.70" fill="#969696"/><rect x="66.95" y="226.20" width="1.96" height="12.70" fill="#ebebeb"/><rect x="68.91" y="226.20" width="0.98" height="12.70" fill="#323232"/><rect x="69.89" y="226.20" width="1.96" height="12.70" fill="#d2d2d2"/><rect x="71.85" y="226.20" width="1.64" height="12.70" fill="#141414"/><rect x="73.49" y="226.20" width="2.29" height="12.70" fill="#828282"/><rect x="75.78" y="226.20" width="1.31" height="12.70" fill="#f0f0f0"/><rect x="77.09" y="226.20" width="3.60" height="12.70" fill="#0f0f0f"/><rect x="80.69" y="226.20" width="1.96" height="12.70" fill="#969696"/><rect x="82.65" y="226.20" width="2.29" height="12.70" fill="#646464"/><rect x="84.94" y="226.20" width="0.98" height="12.70" fill="#141414"/><rect x="85.92" y="226.20" width="2.29" height="12.70" fill="#d2d2d2"/><rect x="88.21" y="226.20" width="2.62" height="12.70" fill="#969696"/><rect x="90.83" y="226.20" width="1.31" height="12.70" fill="#d2d2d2"/><rect x="92.14" y="226.20" width="1.31" height="12.70" fill="#0a0a0a"/><rect x="93.45" y="226.20" width="2.62" height="12.70" fill="#ebebeb"/><rect x="96.07" y="226.20" width="1.96" height="12.70" fill="#a0a0a0"/><rect x="98.03" y="226.20" width="1.96" height="12.70" fill="#c8c8c8"/><rect x="100.00" y="226.20" width="1.64" height="12.70" fill="#6e6e6e"/><rect x="101.64" y="226.20" width="1.64" height="12.70" fill="#141414"/><rect x="103.27" y="226.20" width="2.95" height="12.70" fill="#ebebeb"/><rect x="106.22" y="226.20" width="1.64" height="12.70" fill="#a0a0a0"/><rect x="107.85" y="226.20" width="1.96" height="12.70" fill="#1e1e1e"/><rect x="109.82" y="226.20" width="1.64" height="12.70" fill="#8c8c8c"/><rect x="111.45" y="226.20" width="2.95" height="12.70" fill="#b4b4b4"/><rect x="114.40" y="226.20" width="1.64" height="12.70" fill="#ebebeb"/><rect x="116.03" y="226.20" width="3.60" height="12.70" fill="#828282"/><rect x="119.63" y="226.20" width="2.62" height="12.70" fill="#f0f0f0"/><rect x="122.25" y="226.20" width="1.64" height="12.70" fill="#0a0a0a"/><rect x="123.89" y="226.20" width="2.95" height="12.70" fill="#b4b4b4"/><rect x="126.83" y="226.20" width="1.96" height="12.70" fill="#646464"/><rect x="128.80" y="226.20" width="1.64" height="12.70" fill="#e6e6e6"/><rect x="130.43" y="226.20" width="0.87" height="12.70" fill="#646464"/>
<rect x="29.10" y="238.90" width="102.20" height="12.60" fill="url(#hccc)"/>
<text transform="translate(30.90 247.80) scale(1 1.180)" font-family='"Liberation Sans", sans-serif' font-size="5.9" fill="#221c1c">HC</text>
<text transform="translate(131.00 247.80) scale(1 1.180)" font-family='"Liberation Sans", sans-serif' font-size="5.9" fill="#1c1c30" text-anchor="end">CC</text>
<line x1="29.10" x2="131.30" y1="185.71" y2="185.71" stroke="#f3f3f3" stroke-width="0.5" stroke-dasharray="1 1.5"/>
<line x1="26.10" x2="29.10" y1="185.71" y2="185.71" stroke="#555" stroke-width="0.6"/>
<text transform="translate(24.20 188.21) scale(1 1.180)" font-family='"Liberation Sans", sans-serif' font-size="6.0" fill="#262626" text-anchor="end">0.3</text>
<line x1="29.10" x2="131.30" y1="196.34" y2="196.34" stroke="#f3f3f3" stroke-width="0.5" stroke-dasharray="1 1.5"/>
<line x1="26.10" x2="29.10" y1="196.34" y2="196.34" stroke="#555" stroke-width="0.6"/>
<text transform="translate(24.20 198.84) scale(1 1.180)" font-family='"Liberation Sans", sans-serif' font-size="6.0" fill="#262626" text-anchor="end">0.2</text>
<line x1="29.10" x2="131.30" y1="206.97" y2="206.97" stroke="#f3f3f3" stroke-width="0.5" stroke-dasharray="1 1.5"/>
<line x1="26.10" x2="29.10" y1="206.97" y2="206.97" stroke="#555" stroke-width="0.6"/>
<text transform="translate(24.20 209.47) scale(1 1.180)" font-family='"Liberation Sans", sans-serif' font-size="6.0" fill="#262626" text-anchor="end">0.1</text>
<line x1="29.10" x2="131.30" y1="217.30" y2="217.30" stroke="#aaaaaa" stroke-width="0.85" stroke-dasharray="1.5 1.4"/>
<line x1="26.10" x2="29.10" y1="217.60" y2="217.60" stroke="#555" stroke-width="0.6"/>
<text transform="translate(24.20 220.10) scale(1 1.180)" font-family='"Liberation Sans", sans-serif' font-size="6.0" fill="#262626" text-anchor="end">0</text>
<path d="M29.30 217.40 L30.40 209.80 L31.70 203.10 L33.40 196.00 L34.60 194.30 L36.30 189.50 L38.00 187.80 L39.70 186.20 L41.40 185.30 L43.10 184.10 L44.80 184.50 L46.50 182.40 L48.00 182.60 L49.80 181.90 L52.40 180.70 L54.90 181.10 L58.30 183.10 L62.50 184.50 L66.80 185.70 L71.10 189.70 L76.30 194.30 L78.00 196.00 L84.60 202.60 L91.20 208.50 L95.20 211.20 L99.20 214.50 L103.80 217.80 L108.50 221.10 L113.80 221.80 L117.70 224.20 L123.00 225.10 L127.00 223.80 L130.30 221.10 L131.30 217.40" stroke="#2cee2c" stroke-width="1.35" fill="none" stroke-linejoin="round"/>
<rect x="29.10" y="175.60" width="102.20" height="75.90" fill="none" stroke="#737373" stroke-width="0.9"/>
<line x1="29.10" x2="131.30" y1="226.20" y2="226.20" stroke="#737373" stroke-width="0.7"/>
<line x1="29.20" x2="29.20" y1="251.50" y2="253.10" stroke="#555" stroke-width="0.6"/>
<text transform="translate(29.20 261.40) scale(1 1.180)" font-family='"Liberation Sans", sans-serif' font-size="5.45" fill="#262626" text-anchor="middle">0</text>
<line x1="53.95" x2="53.95" y1="251.50" y2="253.10" stroke="#555" stroke-width="0.6"/>
<text transform="translate(53.95 261.40) scale(1 1.180)" font-family='"Liberation Sans", sans-serif' font-size="5.45" fill="#262626" text-anchor="middle">3000</text>
<line x1="78.70" x2="78.70" y1="251.50" y2="253.10" stroke="#555" stroke-width="0.6"/>
<text transform="translate(78.70 261.40) scale(1 1.180)" font-family='"Liberation Sans", sans-serif' font-size="5.45" fill="#262626" text-anchor="middle">6000</text>
<line x1="103.45" x2="103.45" y1="251.50" y2="253.10" stroke="#555" stroke-width="0.6"/>
<text transform="translate(103.45 261.40) scale(1 1.180)" font-family='"Liberation Sans", sans-serif' font-size="5.45" fill="#262626" text-anchor="middle">9000</text>
<line x1="128.20" x2="128.20" y1="251.50" y2="253.10" stroke="#555" stroke-width="0.6"/>
<text transform="translate(128.20 261.40) scale(1 1.180)" font-family='"Liberation Sans", sans-serif' font-size="5.45" fill="#262626" text-anchor="middle">12000</text>
<text transform="translate(80.20 268.60) scale(1 1.180)" font-family='"Liberation Sans", sans-serif' font-size="5.85" fill="#262626" text-anchor="middle">Rank in ordered gene list</text>
<text transform="translate(79.80 172.30) scale(1 1.180)" font-family='"Liberation Sans", sans-serif' font-size="6.05" fill="#262626" text-anchor="middle">Hallmark Oxidative phosphorylation</text>
<text transform="translate(127.50 188.80) scale(1 1.180)" font-family='"Liberation Sans", sans-serif' font-size="5.9" fill="#262626" text-anchor="end" style="white-space:pre"><tspan font-style="italic">P</tspan><tspan font-size="3.7" dy="0.9">adj</tspan><tspan dy="-0.9"> =  0.00959</tspan></text>
<text transform="translate(127.50 195.90) scale(1 1.180)" font-family='"Liberation Sans", sans-serif' font-size="5.9" fill="#262626" text-anchor="end" style="white-space:pre">NES =  1.404</text>
<text transform="translate(12.2 200.4) rotate(-90) scale(1 1.180)" font-family='"Liberation Sans", sans-serif' font-size="5.55" fill="#262626" text-anchor="middle">Enrichment score</text>
<rect x="161.00" y="226.20" width="102.60" height="12.70" fill="#ffffff"/>
<rect x="161.31" y="226.20" width="1.64" height="12.70" fill="#828282"/><rect x="162.95" y="226.20" width="4.25" height="12.70" fill="#ebebeb"/><rect x="167.20" y="226.20" width="2.29" height="12.70" fill="#1e1e1e"/><rect x="169.49" y="226.20" width="1.31" height="12.70" fill="#c8c8c8"/><rect x="170.80" y="226.20" width="1.96" height="12.70" fill="#dcdcdc"/><rect x="172.76" y="226.20" width="1.31" height="12.70" fill="#141414"/><rect x="174.07" y="226.20" width="1.96" height="12.70" fill="#d2d2d2"/><rect x="176.03" y="226.20" width="6.87" height="12.70" fill="#a5a5a5"/><rect x="182.91" y="226.20" width="1.31" height="12.70" fill="#646464"/><rect x="184.21" y="226.20" width="1.96" height="12.70" fill="#c8c8c8"/><rect x="186.18" y="226.20" width="3.60" height="12.70" fill="#f0f0f0"/><rect x="189.78" y="226.20" width="1.96" height="12.70" fill="#282828"/><rect x="191.74" y="226.20" width="1.31" height="12.70" fill="#dcdcdc"/><rect x="193.05" y="226.20" width="2.95" height="12.70" fill="#969696"/><rect x="196.00" y="226.20" width="1.31" height="12.70" fill="#5a5a5a"/><rect x="197.31" y="226.20" width="1.96" height="12.70" fill="#323232"/><rect x="199.27" y="226.20" width="0.98" height="12.70" fill="#969696"/><rect x="200.25" y="226.20" width="3.60" height="12.70" fill="#f0f0f0"/><rect x="203.85" y="226.20" width="1.64" height="12.70" fill="#505050"/><rect x="205.49" y="226.20" width="1.31" height="12.70" fill="#141414"/><rect x="206.80" y="226.20" width="2.29" height="12.70" fill="#ebebeb"/><rect x="209.09" y="226.20" width="2.29" height="12.70" fill="#505050"/><rect x="211.38" y="226.20" width="1.31" height="12.70" fill="#969696"/><rect x="212.69" y="226.20" width="2.95" height="12.70" fill="#b4b4b4"/><rect x="215.63" y="226.20" width="1.31" height="12.70" fill="#787878"/><rect x="216.94" y="226.20" width="1.31" height="12.70" fill="#464646"/><rect x="218.25" y="226.20" width="1.96" height="12.70" fill="#141414"/><rect x="220.21" y="226.20" width="3.27" height="12.70" fill="#ebebeb"/><rect x="223.49" y="226.20" width="1.64" height="12.70" fill="#828282"/><rect x="225.12" y="226.20" width="2.95" height="12.70" fill="#5a5a5a"/><rect x="228.07" y="226.20" width="1.96" height="12.70" fill="#ebebeb"/><rect x="230.03" y="226.20" width="1.96" height="12.70" fill="#aaaaaa"/><rect x="232.00" y="226.20" width="1.31" height="12.70" fill="#e6e6e6"/><rect x="233.31" y="226.20" width="1.64" height="12.70" fill="#141414"/><rect x="234.95" y="226.20" width="2.95" height="12.70" fill="#f0f0f0"/><rect x="237.89" y="226.20" width="0.98" height="12.70" fill="#3c3c3c"/><rect x="238.87" y="226.20" width="0.98" height="12.70" fill="#c8c8c8"/><rect x="239.85" y="226.20" width="1.31" height="12.70" fill="#1e1e1e"/><rect x="241.16" y="226.20" width="1.64" height="12.70" fill="#e6e6e6"/><rect x="242.80" y="226.20" width="0.98" height="12.70" fill="#828282"/><rect x="243.78" y="226.20" width="1.64" height="12.70" fill="#dcdcdc"/><rect x="245.42" y="226.20" width="1.31" height="12.70" fill="#141414"/><rect x="246.73" y="226.20" width="1.31" height="12.70" fill="#969696"/><rect x="248.03" y="226.20" width="1.96" height="12.70" fill="#1e1e1e"/><rect x="250.00" y="226.20" width="1.64" height="12.70" fill="#787878"/><rect x="251.63" y="226.20" width="1.96" height="12.70" fill="#d2d2d2"/><rect x="253.60" y="226.20" width="2.29" height="12.70" fill="#f0f0f0"/><rect x="255.89" y="226.20" width="1.31" height="12.70" fill="#323232"/><rect x="257.20" y="226.20" width="1.96" height="12.70" fill="#dcdcdc"/><rect x="259.16" y="226.20" width="2.95" height="12.70" fill="#0a0a0a"/><rect x="262.10" y="226.20" width="1.31" height="12.70" fill="#787878"/>
<rect x="161.00" y="238.90" width="102.60" height="12.60" fill="url(#hccc)"/>
<text transform="translate(162.80 247.80) scale(1 1.180)" font-family='"Liberation Sans", sans-serif' font-size="5.9" fill="#221c1c">HC</text>
<text transform="translate(263.30 247.80) scale(1 1.180)" font-family='"Liberation Sans", sans-serif' font-size="5.9" fill="#1c1c30" text-anchor="end">CC</text>
<line x1="161.00" x2="263.60" y1="189.90" y2="189.90" stroke="#aaaaaa" stroke-width="0.85" stroke-dasharray="1.5 1.4"/>
<line x1="158.00" x2="161.00" y1="190.40" y2="190.40" stroke="#555" stroke-width="0.6"/>
<text transform="translate(156.10 192.90) scale(1 1.180)" font-family='"Liberation Sans", sans-serif' font-size="6.0" fill="#262626" text-anchor="end">0</text>
<line x1="161.00" x2="263.60" y1="200.55" y2="200.55" stroke="#f3f3f3" stroke-width="0.5" stroke-dasharray="1 1.5"/>
<line x1="158.00" x2="161.00" y1="200.55" y2="200.55" stroke="#555" stroke-width="0.6"/>
<text transform="translate(156.10 203.05) scale(1 1.180)" font-family='"Liberation Sans", sans-serif' font-size="6.0" fill="#262626" text-anchor="end">-0.1</text>
<line x1="161.00" x2="263.60" y1="210.70" y2="210.70" stroke="#f3f3f3" stroke-width="0.5" stroke-dasharray="1 1.5"/>
<line x1="158.00" x2="161.00" y1="210.70" y2="210.70" stroke="#555" stroke-width="0.6"/>
<text transform="translate(156.10 213.20) scale(1 1.180)" font-family='"Liberation Sans", sans-serif' font-size="6.0" fill="#262626" text-anchor="end">-0.2</text>
<line x1="161.00" x2="263.60" y1="220.85" y2="220.85" stroke="#f3f3f3" stroke-width="0.5" stroke-dasharray="1 1.5"/>
<line x1="158.00" x2="161.00" y1="220.85" y2="220.85" stroke="#555" stroke-width="0.6"/>
<text transform="translate(156.10 223.35) scale(1 1.180)" font-family='"Liberation Sans", sans-serif' font-size="6.0" fill="#262626" text-anchor="end">-0.3</text>
<path d="M160.90 190.20 L162.90 187.10 L164.90 188.30 L167.40 190.20 L169.70 187.10 L171.70 185.70 L174.00 180.80 L177.50 182.20 L181.40 183.80 L184.40 183.20 L187.30 185.10 L190.20 186.30 L194.10 189.00 L199.00 191.00 L204.80 196.00 L210.00 200.00 L215.60 205.40 L221.20 211.00 L226.80 215.10 L232.30 219.30 L237.90 223.50 L240.70 222.80 L245.60 226.00 L249.10 222.80 L252.60 218.60 L256.10 220.00 L258.20 215.80 L260.30 203.90 L261.70 195.60 L263.30 189.80" stroke="#2cee2c" stroke-width="1.35" fill="none" stroke-linejoin="round"/>
<rect x="161.00" y="175.60" width="102.60" height="75.90" fill="none" stroke="#737373" stroke-width="0.9"/>
<line x1="161.00" x2="263.60" y1="226.20" y2="226.20" stroke="#737373" stroke-width="0.7"/>
<line x1="161.10" x2="161.10" y1="251.50" y2="253.10" stroke="#555" stroke-width="0.6"/>
<text transform="translate(161.10 261.40) scale(1 1.180)" font-family='"Liberation Sans", sans-serif' font-size="5.45" fill="#262626" text-anchor="middle">0</text>
<line x1="185.95" x2="185.95" y1="251.50" y2="253.10" stroke="#555" stroke-width="0.6"/>
<text transform="translate(185.95 261.40) scale(1 1.180)" font-family='"Liberation Sans", sans-serif' font-size="5.45" fill="#262626" text-anchor="middle">3000</text>
<line x1="210.79" x2="210.79" y1="251.50" y2="253.10" stroke="#555" stroke-width="0.6"/>
<text transform="translate(210.79 261.40) scale(1 1.180)" font-family='"Liberation Sans", sans-serif' font-size="5.45" fill="#262626" text-anchor="middle">6000</text>
<line x1="235.64" x2="235.64" y1="251.50" y2="253.10" stroke="#555" stroke-width="0.6"/>
<text transform="translate(235.64 261.40) scale(1 1.180)" font-family='"Liberation Sans", sans-serif' font-size="5.45" fill="#262626" text-anchor="middle">9000</text>
<line x1="260.49" x2="260.49" y1="251.50" y2="253.10" stroke="#555" stroke-width="0.6"/>
<text transform="translate(260.49 261.40) scale(1 1.180)" font-family='"Liberation Sans", sans-serif' font-size="5.45" fill="#262626" text-anchor="middle">12000</text>
<text transform="translate(212.30 268.60) scale(1 1.180)" font-family='"Liberation Sans", sans-serif' font-size="5.85" fill="#262626" text-anchor="middle">Rank in ordered gene list</text>
<text transform="translate(211.90 172.30) scale(1 1.180)" font-family='"Liberation Sans", sans-serif' font-size="6.05" fill="#262626" text-anchor="middle">Hallmark Coagulation</text>
<text transform="translate(259.80 188.80) scale(1 1.180)" font-family='"Liberation Sans", sans-serif' font-size="5.9" fill="#262626" text-anchor="end" style="white-space:pre"><tspan font-style="italic">P</tspan><tspan font-size="3.7" dy="0.9">adj</tspan><tspan dy="-0.9"> =  0.00506</tspan></text>
<text transform="translate(259.80 195.90) scale(1 1.180)" font-family='"Liberation Sans", sans-serif' font-size="5.9" fill="#262626" text-anchor="end" style="white-space:pre">NES =  -1.46</text>
<rect x="302.00" y="226.20" width="102.50" height="12.70" fill="#ffffff"/>
<rect x="302.00" y="226.20" width="0.95" height="12.70" fill="#0a0a0a"/><rect x="302.95" y="226.20" width="0.98" height="12.70" fill="#828282"/><rect x="303.93" y="226.20" width="2.62" height="12.70" fill="#505050"/><rect x="306.54" y="226.20" width="1.96" height="12.70" fill="#aaaaaa"/><rect x="308.51" y="226.20" width="2.95" height="12.70" fill="#969696"/><rect x="311.45" y="226.20" width="1.31" height="12.70" fill="#141414"/><rect x="312.76" y="226.20" width="1.96" height="12.70" fill="#d2d2d2"/><rect x="314.73" y="226.20" width="1.64" height="12.70" fill="#1e1e1e"/><rect x="316.36" y="226.20" width="1.96" height="12.70" fill="#8c8c8c"/><rect x="318.32" y="226.20" width="1.31" height="12.70" fill="#dcdcdc"/><rect x="319.63" y="226.20" width="1.31" height="12.70" fill="#3c3c3c"/><rect x="320.94" y="226.20" width="2.29" height="12.70" fill="#f0f0f0"/><rect x="323.23" y="226.20" width="4.25" height="12.70" fill="#141414"/><rect x="327.49" y="226.20" width="2.62" height="12.70" fill="#ebebeb"/><rect x="330.10" y="226.20" width="1.31" height="12.70" fill="#828282"/><rect x="331.41" y="226.20" width="1.64" height="12.70" fill="#141414"/><rect x="333.05" y="226.20" width="2.95" height="12.70" fill="#969696"/><rect x="336.00" y="226.20" width="0.98" height="12.70" fill="#969696"/><rect x="336.98" y="226.20" width="1.96" height="12.70" fill="#141414"/><rect x="338.95" y="226.20" width="3.27" height="12.70" fill="#f0f0f0"/><rect x="342.22" y="226.20" width="1.96" height="12.70" fill="#b4b4b4"/><rect x="344.18" y="226.20" width="2.29" height="12.70" fill="#141414"/><rect x="346.47" y="226.20" width="1.64" height="12.70" fill="#e1e1e1"/><rect x="348.11" y="226.20" width="2.95" height="12.70" fill="#bebebe"/><rect x="351.05" y="226.20" width="5.89" height="12.70" fill="#787878"/><rect x="356.94" y="226.20" width="1.31" height="12.70" fill="#e6e6e6"/><rect x="358.25" y="226.20" width="0.98" height="12.70" fill="#141414"/><rect x="359.23" y="226.20" width="1.31" height="12.70" fill="#e6e6e6"/><rect x="360.54" y="226.20" width="1.64" height="12.70" fill="#5a5a5a"/><rect x="362.18" y="226.20" width="3.60" height="12.70" fill="#8c8c8c"/><rect x="365.78" y="226.20" width="1.31" height="12.70" fill="#141414"/><rect x="367.09" y="226.20" width="1.64" height="12.70" fill="#e6e6e6"/><rect x="368.72" y="226.20" width="3.27" height="12.70" fill="#a0a0a0"/><rect x="372.00" y="226.20" width="1.64" height="12.70" fill="#8c8c8c"/><rect x="373.64" y="226.20" width="1.31" height="12.70" fill="#141414"/><rect x="374.95" y="226.20" width="1.64" height="12.70" fill="#8c8c8c"/><rect x="376.58" y="226.20" width="1.96" height="12.70" fill="#f0f0f0"/><rect x="378.54" y="226.20" width="3.60" height="12.70" fill="#a0a0a0"/><rect x="382.14" y="226.20" width="2.95" height="12.70" fill="#282828"/><rect x="385.09" y="226.20" width="1.96" height="12.70" fill="#646464"/><rect x="387.05" y="226.20" width="1.64" height="12.70" fill="#f0f0f0"/><rect x="388.69" y="226.20" width="1.31" height="12.70" fill="#141414"/><rect x="390.00" y="226.20" width="3.60" height="12.70" fill="#969696"/><rect x="393.60" y="226.20" width="1.64" height="12.70" fill="#e6e6e6"/><rect x="395.23" y="226.20" width="1.64" height="12.70" fill="#141414"/><rect x="396.87" y="226.20" width="2.29" height="12.70" fill="#d2d2d2"/><rect x="399.16" y="226.20" width="1.64" height="12.70" fill="#3c3c3c"/><rect x="400.80" y="226.20" width="1.96" height="12.70" fill="#e6e6e6"/><rect x="402.76" y="226.20" width="1.64" height="12.70" fill="#969696"/>
<rect x="302.00" y="238.90" width="102.50" height="12.60" fill="url(#hccc)"/>
<text transform="translate(303.80 247.80) scale(1 1.180)" font-family='"Liberation Sans", sans-serif' font-size="5.9" fill="#221c1c">HC</text>
<text transform="translate(404.20 247.80) scale(1 1.180)" font-family='"Liberation Sans", sans-serif' font-size="5.9" fill="#1c1c30" text-anchor="end">CC</text>
<line x1="302.00" x2="404.50" y1="190.59" y2="190.59" stroke="#f3f3f3" stroke-width="0.5" stroke-dasharray="1 1.5"/>
<line x1="299.00" x2="302.00" y1="190.59" y2="190.59" stroke="#555" stroke-width="0.6"/>
<text transform="translate(297.10 193.09) scale(1 1.180)" font-family='"Liberation Sans", sans-serif' font-size="6.0" fill="#262626" text-anchor="end">0.3</text>
<line x1="302.00" x2="404.50" y1="201.56" y2="201.56" stroke="#f3f3f3" stroke-width="0.5" stroke-dasharray="1 1.5"/>
<line x1="299.00" x2="302.00" y1="201.56" y2="201.56" stroke="#555" stroke-width="0.6"/>
<text transform="translate(297.10 204.06) scale(1 1.180)" font-family='"Liberation Sans", sans-serif' font-size="6.0" fill="#262626" text-anchor="end">0.2</text>
<line x1="302.00" x2="404.50" y1="212.53" y2="212.53" stroke="#f3f3f3" stroke-width="0.5" stroke-dasharray="1 1.5"/>
<line x1="299.00" x2="302.00" y1="212.53" y2="212.53" stroke="#555" stroke-width="0.6"/>
<text transform="translate(297.10 215.03) scale(1 1.180)" font-family='"Liberation Sans", sans-serif' font-size="6.0" fill="#262626" text-anchor="end">0.1</text>
<line x1="302.00" x2="404.50" y1="223.10" y2="223.10" stroke="#aaaaaa" stroke-width="0.85" stroke-dasharray="1.5 1.4"/>
<line x1="299.00" x2="302.00" y1="223.50" y2="223.50" stroke="#555" stroke-width="0.6"/>
<text transform="translate(297.10 226.00) scale(1 1.180)" font-family='"Liberation Sans", sans-serif' font-size="6.0" fill="#262626" text-anchor="end">0</text>
<path d="M302.10 222.80 L302.50 214.00 L303.20 208.00 L304.00 204.00 L304.60 199.50 L305.50 197.00 L306.20 192.00 L306.80 188.00 L308.00 186.80 L309.50 186.00 L311.00 185.50 L312.50 184.50 L314.00 183.80 L315.50 182.40 L317.30 183.40 L318.50 182.50 L320.00 181.10 L321.50 182.80 L322.80 183.70 L324.00 183.00 L325.60 182.60 L327.50 183.50 L329.20 184.30 L332.80 185.30 L338.50 184.80 L345.00 191.00 L350.00 195.60 L357.00 202.60 L364.00 208.90 L371.00 214.40 L377.90 220.00 L382.10 223.50 L387.00 222.80 L390.50 224.90 L395.40 225.60 L397.50 222.80 L401.70 220.00 L404.30 222.80" stroke="#2cee2c" stroke-width="1.35" fill="none" stroke-linejoin="round"/>
<rect x="302.00" y="175.60" width="102.50" height="75.90" fill="none" stroke="#737373" stroke-width="0.9"/>
<line x1="302.00" x2="404.50" y1="226.20" y2="226.20" stroke="#737373" stroke-width="0.7"/>
<line x1="302.10" x2="302.10" y1="251.50" y2="253.10" stroke="#555" stroke-width="0.6"/>
<text transform="translate(302.10 261.40) scale(1 1.180)" font-family='"Liberation Sans", sans-serif' font-size="5.45" fill="#262626" text-anchor="middle">0</text>
<line x1="326.92" x2="326.92" y1="251.50" y2="253.10" stroke="#555" stroke-width="0.6"/>
<text transform="translate(326.92 261.40) scale(1 1.180)" font-family='"Liberation Sans", sans-serif' font-size="5.45" fill="#262626" text-anchor="middle">3000</text>
<line x1="351.75" x2="351.75" y1="251.50" y2="253.10" stroke="#555" stroke-width="0.6"/>
<text transform="translate(351.75 261.40) scale(1 1.180)" font-family='"Liberation Sans", sans-serif' font-size="5.45" fill="#262626" text-anchor="middle">6000</text>
<line x1="376.57" x2="376.57" y1="251.50" y2="253.10" stroke="#555" stroke-width="0.6"/>
<text transform="translate(376.57 261.40) scale(1 1.180)" font-family='"Liberation Sans", sans-serif' font-size="5.45" fill="#262626" text-anchor="middle">9000</text>
<line x1="401.39" x2="401.39" y1="251.50" y2="253.10" stroke="#555" stroke-width="0.6"/>
<text transform="translate(401.39 261.40) scale(1 1.180)" font-family='"Liberation Sans", sans-serif' font-size="5.45" fill="#262626" text-anchor="middle">12000</text>
<text transform="translate(353.25 268.60) scale(1 1.180)" font-family='"Liberation Sans", sans-serif' font-size="5.85" fill="#262626" text-anchor="middle">Rank in ordered gene list</text>
<text transform="translate(352.85 172.30) scale(1 1.180)" font-family='"Liberation Sans", sans-serif' font-size="6.05" fill="#262626" text-anchor="middle">GO Cellular respiration</text>
<text transform="translate(400.70 188.80) scale(1 1.180)" font-family='"Liberation Sans", sans-serif' font-size="5.9" fill="#262626" text-anchor="end" style="white-space:pre"><tspan font-style="italic">P</tspan><tspan font-size="3.7" dy="0.9">adj</tspan><tspan dy="-0.9"> =  0.09554</tspan></text>
<text transform="translate(400.70 195.90) scale(1 1.180)" font-family='"Liberation Sans", sans-serif' font-size="5.9" fill="#262626" text-anchor="end" style="white-space:pre">NES =  1.5001</text>
<rect x="436.30" y="226.20" width="102.20" height="12.70" fill="#ffffff"/>
<rect x="445.00" y="226.20" width="0.80" height="12.70" fill="#464646"/><rect x="449.90" y="226.20" width="1.30" height="12.70" fill="#1e1e1e"/><rect x="465.70" y="226.20" width="0.90" height="12.70" fill="#969696"/><rect x="467.80" y="226.20" width="0.70" height="12.70" fill="#3c3c3c"/><rect x="489.40" y="226.20" width="1.10" height="12.70" fill="#3c3c3c"/><rect x="498.60" y="226.20" width="0.80" height="12.70" fill="#464646"/><rect x="504.70" y="226.20" width="0.80" height="12.70" fill="#828282"/><rect x="517.20" y="226.20" width="0.70" height="12.70" fill="#787878"/>
<rect x="436.30" y="238.90" width="102.20" height="12.60" fill="url(#hccc)"/>
<text transform="translate(438.10 247.80) scale(1 1.180)" font-family='"Liberation Sans", sans-serif' font-size="5.9" fill="#221c1c">HC</text>
<text transform="translate(538.20 247.80) scale(1 1.180)" font-family='"Liberation Sans", sans-serif' font-size="5.9" fill="#1c1c30" text-anchor="end">CC</text>
<line x1="436.30" x2="538.50" y1="185.54" y2="185.54" stroke="#f3f3f3" stroke-width="0.5" stroke-dasharray="1 1.5"/>
<line x1="433.30" x2="436.30" y1="185.54" y2="185.54" stroke="#555" stroke-width="0.6"/>
<text transform="translate(431.40 188.04) scale(1 1.180)" font-family='"Liberation Sans", sans-serif' font-size="6.0" fill="#262626" text-anchor="end">0.6</text>
<line x1="436.30" x2="538.50" y1="192.40" y2="192.40" stroke="#f3f3f3" stroke-width="0.5" stroke-dasharray="1 1.5"/>
<line x1="433.30" x2="436.30" y1="192.40" y2="192.40" stroke="#555" stroke-width="0.6"/>
<text transform="translate(431.40 194.90) scale(1 1.180)" font-family='"Liberation Sans", sans-serif' font-size="6.0" fill="#262626" text-anchor="end">0.5</text>
<line x1="436.30" x2="538.50" y1="199.26" y2="199.26" stroke="#f3f3f3" stroke-width="0.5" stroke-dasharray="1 1.5"/>
<line x1="433.30" x2="436.30" y1="199.26" y2="199.26" stroke="#555" stroke-width="0.6"/>
<text transform="translate(431.40 201.76) scale(1 1.180)" font-family='"Liberation Sans", sans-serif' font-size="6.0" fill="#262626" text-anchor="end">0.4</text>
<line x1="436.30" x2="538.50" y1="206.12" y2="206.12" stroke="#f3f3f3" stroke-width="0.5" stroke-dasharray="1 1.5"/>
<line x1="433.30" x2="436.30" y1="206.12" y2="206.12" stroke="#555" stroke-width="0.6"/>
<text transform="translate(431.40 208.62) scale(1 1.180)" font-family='"Liberation Sans", sans-serif' font-size="6.0" fill="#262626" text-anchor="end">0.3</text>
<line x1="436.30" x2="538.50" y1="212.98" y2="212.98" stroke="#f3f3f3" stroke-width="0.5" stroke-dasharray="1 1.5"/>
<line x1="433.30" x2="436.30" y1="212.98" y2="212.98" stroke="#555" stroke-width="0.6"/>
<text transform="translate(431.40 215.48) scale(1 1.180)" font-family='"Liberation Sans", sans-serif' font-size="6.0" fill="#262626" text-anchor="end">0.2</text>
<line x1="436.30" x2="538.50" y1="219.84" y2="219.84" stroke="#f3f3f3" stroke-width="0.5" stroke-dasharray="1 1.5"/>
<line x1="433.30" x2="436.30" y1="219.84" y2="219.84" stroke="#555" stroke-width="0.6"/>
<text transform="translate(431.40 222.34) scale(1 1.180)" font-family='"Liberation Sans", sans-serif' font-size="6.0" fill="#262626" text-anchor="end">0.1</text>
<line x1="436.30" x2="538.50" y1="225.90" y2="225.90" stroke="#aaaaaa" stroke-width="0.85" stroke-dasharray="1.5 1.4"/>
<line x1="433.30" x2="436.30" y1="226.70" y2="226.70" stroke="#555" stroke-width="0.6"/>
<text transform="translate(431.40 229.20) scale(1 1.180)" font-family='"Liberation Sans", sans-serif' font-size="6.0" fill="#262626" text-anchor="end">0</text>
<path d="M436.40 225.90 L436.70 210.10 L437.50 194.50 L445.30 199.40 L446.10 192.50 L449.60 194.50 L450.60 188.60 L451.50 178.50 L465.20 188.30 L467.10 186.70 L469.10 186.10 L486.00 197.40 L497.80 204.70 L500.00 205.00 L504.40 207.60 L505.10 207.40 L516.90 214.70 L517.60 211.80 L538.40 225.70" stroke="#2cee2c" stroke-width="1.35" fill="none" stroke-linejoin="round"/>
<rect x="436.30" y="175.60" width="102.20" height="75.90" fill="none" stroke="#737373" stroke-width="0.9"/>
<line x1="436.30" x2="538.50" y1="226.20" y2="226.20" stroke="#737373" stroke-width="0.7"/>
<line x1="436.40" x2="436.40" y1="251.50" y2="253.10" stroke="#555" stroke-width="0.6"/>
<text transform="translate(436.40 261.40) scale(1 1.180)" font-family='"Liberation Sans", sans-serif' font-size="5.45" fill="#262626" text-anchor="middle">0</text>
<line x1="461.15" x2="461.15" y1="251.50" y2="253.10" stroke="#555" stroke-width="0.6"/>
<text transform="translate(461.15 261.40) scale(1 1.180)" font-family='"Liberation Sans", sans-serif' font-size="5.45" fill="#262626" text-anchor="middle">3000</text>
<line x1="485.90" x2="485.90" y1="251.50" y2="253.10" stroke="#555" stroke-width="0.6"/>
<text transform="translate(485.90 261.40) scale(1 1.180)" font-family='"Liberation Sans", sans-serif' font-size="5.45" fill="#262626" text-anchor="middle">6000</text>
<line x1="510.65" x2="510.65" y1="251.50" y2="253.10" stroke="#555" stroke-width="0.6"/>
<text transform="translate(510.65 261.40) scale(1 1.180)" font-family='"Liberation Sans", sans-serif' font-size="5.45" fill="#262626" text-anchor="middle">9000</text>
<line x1="535.40" x2="535.40" y1="251.50" y2="253.10" stroke="#555" stroke-width="0.6"/>
<text transform="translate(535.40 261.40) scale(1 1.180)" font-family='"Liberation Sans", sans-serif' font-size="5.45" fill="#262626" text-anchor="middle">12000</text>
<text transform="translate(487.40 268.60) scale(1 1.180)" font-family='"Liberation Sans", sans-serif' font-size="5.85" fill="#262626" text-anchor="middle">Rank in ordered gene list</text>
<text transform="translate(487.40 165.40) scale(1 1.180)" font-family='"Liberation Sans", sans-serif' font-size="6.1" fill="#262626" text-anchor="middle">GO Postsynaptic modulation of</text>
<text transform="translate(487.40 173.20) scale(1 1.180)" font-family='"Liberation Sans", sans-serif' font-size="6.1" fill="#262626" text-anchor="middle">chemical synaptic transmission</text>
<text transform="translate(534.70 188.80) scale(1 1.180)" font-family='"Liberation Sans", sans-serif' font-size="5.9" fill="#262626" text-anchor="end" style="white-space:pre"><tspan font-style="italic">P</tspan><tspan font-size="3.7" dy="0.9">adj</tspan><tspan dy="-0.9"> =  0.12236</tspan></text>
<text transform="translate(534.70 195.90) scale(1 1.180)" font-family='"Liberation Sans", sans-serif' font-size="5.9" fill="#262626" text-anchor="end" style="white-space:pre">NES =  1.7062</text>
</svg></body></html>
